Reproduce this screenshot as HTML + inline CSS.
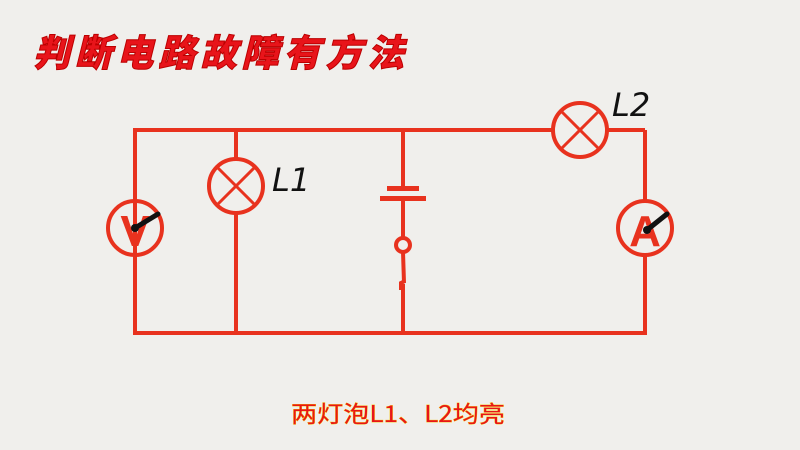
<!DOCTYPE html>
<html><head><meta charset="utf-8"><style>
html,body{margin:0;padding:0;background:#f0efec;}
svg{display:block}
</style></head><body>
<svg width="800" height="450" viewBox="0 0 800 450" xmlns="http://www.w3.org/2000/svg">
<rect width="800" height="450" fill="#f0efec"/>
<text x="33" y="66" font-family="Noto Sans CJK SC, sans-serif" font-weight="900" font-size="37" fill="#e8141a" stroke="#b00" stroke-width="1" letter-spacing="5" textLength="376" lengthAdjust="spacingAndGlyphs" font-style="italic">判断电路故障有方法</text>
<g stroke="#e8321e" stroke-width="4" fill="none">
<polyline points="553,130 135,130 135,333 645,333 645,255"/>
<line x1="236" y1="130" x2="236" y2="159"/>
<line x1="236" y1="213" x2="236" y2="333"/>
<line x1="607" y1="130" x2="645" y2="130"/>
<line x1="645" y1="130" x2="645" y2="201"/>
<line x1="403" y1="130" x2="403" y2="189"/>
<line x1="403" y1="198" x2="403" y2="237"/>
<circle cx="403" cy="245" r="7"/>
<line x1="403" y1="252" x2="404" y2="283"/>
<path d="M401,290 L401,283 L405,281"/>
<line x1="403" y1="284" x2="403" y2="333"/>
<circle cx="135" cy="228" r="27"/>
<circle cx="236" cy="186" r="27"/>
<circle cx="580" cy="130" r="27"/>
<circle cx="645" cy="228" r="27"/>
<line x1="217" y1="167" x2="255" y2="205" stroke-width="3"/>
<line x1="255" y1="167" x2="217" y2="205" stroke-width="3"/>
<line x1="561" y1="111" x2="599" y2="149" stroke-width="3"/>
<line x1="599" y1="111" x2="561" y2="149" stroke-width="3"/>
</g>
<rect x="387" y="186" width="32" height="5" fill="#e8321e"/>
<rect x="380" y="196" width="46" height="5" fill="#e8321e"/>
<text x="135" y="246" text-anchor="middle" font-family="Liberation Sans, sans-serif" font-weight="bold" font-size="44" fill="#e8321e">V</text>
<text x="645" y="246" text-anchor="middle" font-family="Liberation Sans, sans-serif" font-weight="bold" font-size="44" fill="#e8321e">A</text>
<g stroke="#111" stroke-width="5" stroke-linecap="round">
<line x1="135" y1="228" x2="158" y2="214"/>
<line x1="647" y1="230" x2="667" y2="214"/>
</g>
<circle cx="135" cy="228" r="4" fill="#111"/>
<circle cx="647" cy="230" r="4" fill="#111"/>
<text x="272" y="191" font-family="DejaVu Sans, sans-serif" font-style="italic" font-size="32" fill="#111">L1</text>
<text x="612" y="116" font-family="DejaVu Sans, sans-serif" font-style="italic" font-size="32" fill="#111">L2</text>
<text x="398" y="422" text-anchor="middle" font-family="Noto Sans CJK SC, sans-serif" font-size="23" fill="#e8141a" stroke="#f5c400" stroke-width="0.7" paint-order="stroke" textLength="214" lengthAdjust="spacingAndGlyphs">两灯泡L1、L2均亮</text>
</svg>
</body></html>
